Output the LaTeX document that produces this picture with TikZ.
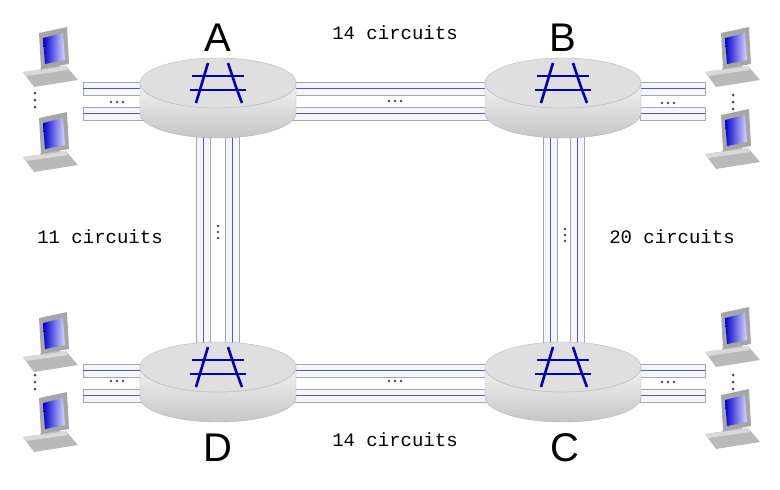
\documentclass[tikz,border=0pt]{standalone}
\usepackage{fontspec}
\setmainfont{Liberation Sans}
\newfontfamily\monof{Liberation Mono}
\begin{document}
\begin{tikzpicture}[x=1pt,y=-1pt,
  bundle/.style={fill=blue!4,draw=gray!70,line width=0.8pt},
  inner/.style={draw=blue!30!gray,line width=0.8pt},
  dotsty/.style={fill=gray!60!black},
  lbl/.style={font=\fontsize{40}{40}\selectfont},
  circ/.style={font=\monof\fontsize{19}{19}\selectfont},
  sym/.style={draw=blue!70!black,line width=2.6pt},
  router/.pic={
    \shade[top color=gray!10,bottom color=gray!45,draw=gray!60]
      (-78,0) -- (-78,30) arc[start angle=180,end angle=0,x radius=78,y radius=25]
      -- (78,0) arc[start angle=0,end angle=180,x radius=78,y radius=25] -- cycle;
    \fill[gray!25,draw=gray!55] (0,0) ellipse[x radius=78,y radius=25];
    \draw[sym] (-10,-20) -- (-22,20);
    \draw[sym] (10,-20) -- (18,4) -- (24,20);
    \draw[sym] (-26,-7) -- (26,-7);
    \draw[sym] (-28,7) -- (28,7);
  },
  computer/.pic={
    \fill[gray!55] (-25,12) -- (18,6) -- (30,20) -- (-14,27) -- cycle;
    \fill[gray!30] (-25,12) -- (18,6) -- (20,10) -- (-22,16) -- cycle;
    \fill[gray!50] (-8,10) -- (12,7) -- (12,3) -- (-6,5) -- cycle;
    \fill[gray!70] (-9,-27) -- (19,-33) -- (21,4) -- (-7,9) -- cycle;
    \shade[left color=blue!80!black,right color=blue!15] (-5,-22) -- (15,-27) -- (17,0) -- (-3,4) -- cycle;
  }]
\useasboundingbox (0,0) rectangle (780,490);
% coordinates
\coordinate (A) at (218,83);
\coordinate (B) at (563,83);
\coordinate (D) at (218,367);
\coordinate (C) at (563,367);
% vertical links
\foreach \r/\x in {A/196,A/225,B/543,B/570}{
  \draw[bundle] (\x,130) rectangle ++(14,215);
  \draw[inner] (\x+7,130) -- ++(0,215);
}
\foreach \p in {(218,232),(565,235)}{
  \foreach \d in {-6,0,6} \fill[dotsty] \p ++(0,\d) circle (1.3);
}
% horizontal links
\foreach \y in {82,107,364,389}{
  \draw[bundle] (290,\y) rectangle (490,\y+13);
  \draw[inner] (290,\y+6.5) -- (490,\y+6.5);
  \draw[bundle] (83,\y) rectangle (145,\y+13);
  \draw[inner] (83,\y+6.5) -- (145,\y+6.5);
  \draw[bundle] (640,\y) rectangle (705,\y+13);
  \draw[inner] (640,\y+6.5) -- (705,\y+6.5);
}
\foreach \p in {(395,101),(117,102),(668,103),(395,381),(117,381),(668,382)}{
  \foreach \d in {-6,0,6} \fill[dotsty] \p ++(\d,0) circle (1.3);
}
% routers
\pic (rA) at (A) {router};
\pic (rB) at (B) {router};
\pic (rD) at (D) {router};
\pic (rC) at (C) {router};
% computers
\foreach \n/\p in {c1/{(48,60)},c2/{(48,145)},c3/{(48,345)},c4/{(48,425)},
  c5/{(730,60)},c6/{(730,142)},c7/{(730,340)},c8/{(730,422)}}{
  \pic (\n) at \p {computer};
}
\foreach \p in {(35,100),(35,382),(733,102),(733,382)}{
  \foreach \d in {-7,0,7} \fill[dotsty] \p ++(0,\d) circle (1.5);
}
% labels
\node[lbl] (lA) at (218,38) {A};
\node[lbl] (lB) at (563,38) {B};
\node[lbl] (lD) at (218,448) {D};
\node[lbl] (lC) at (565,448) {C};
\node[circ] (t1) at (395,33) {14 circuits};
\node[circ] (t2) at (100,237) {11 circuits};
\node[circ] (t3) at (672,237) {20 circuits};
\node[circ] (t4) at (395,440) {14 circuits};
\end{tikzpicture}
\end{document}
